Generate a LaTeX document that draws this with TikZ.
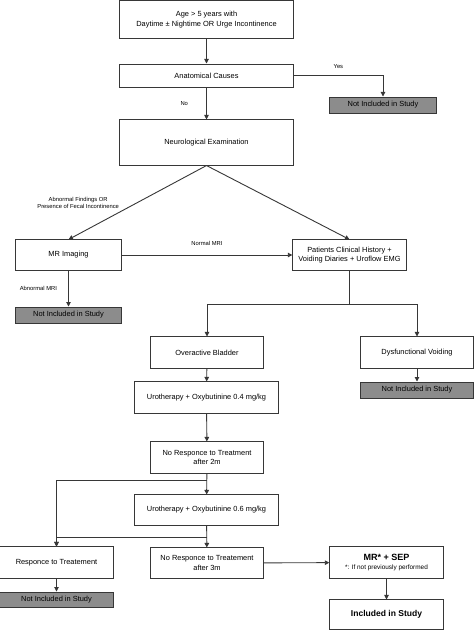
\documentclass[tikz,border=0pt]{standalone}
\usepackage{fontspec}
\setmainfont{Liberation Sans}
\usetikzlibrary{arrows.meta}
\definecolor{exclgray}{RGB}{140,140,140}
\definecolor{edgegray}{RGB}{55,55,55}
\tikzset{
  box/.style={draw=edgegray, line width=0.9pt, fill=white, align=center, inner sep=0pt, font=\fontsize{7.4}{9.6}\selectfont},
  kexcl/.style={box, fill=exclgray, minimum height=16pt},
  kstep/.style={box, minimum width=112pt, minimum height=31pt},
  kdrug/.style={box, minimum width=143pt, minimum height=31pt},
  lbl/.style={font=\fontsize{5.8}{7}\selectfont, inner sep=1pt, align=center},
  flow/.style={-{Triangle[length=4.5pt, width=4.5pt]}, line width=0.9pt, draw=edgegray},
}

\begin{document}
\begin{tikzpicture}[x=0.035cm, y=-0.035cm]
    \useasboundingbox (0,0) rectangle (474,631);
    \node[box, minimum width=173pt, minimum height=37pt] (age) at (206.5,19.5) {Age > 5 years with\\Daytime ± Nightime OR Urge Incontinence};
    \node[box, minimum width=173pt, minimum height=23pt] (anat) at (206.5,75.5) {Anatomical Causes};
    \node[kexcl, minimum width=106pt] (exclA) at (383,105) {Not Included in Study};
    \node[box, minimum width=173pt, minimum height=45pt] (neuro) at (206.5,142.5) {Neurological Examination};
    \node[box, minimum width=105pt, minimum height=30pt] (mri) at (68.5,255) {MR Imaging};
    \node[box, minimum width=113pt, minimum height=30pt] (hist) at (349.5,255) {Patients Clinical History +\\Voiding Diaries + Uroflow EMG};
    \node[kexcl, minimum width=105pt] (exclB) at (68.5,315) {Not Included in Study};
    \node[kstep] (oab) at (207,352.5) {Overactive Bladder};
    \node[kstep] (dysv) at (417,352.5) {Dysfunctional Voiding};
    \node[kexcl, minimum width=112pt] (exclC) at (417,390) {Not Included in Study};
    \node[kdrug] (uroA) at (206.5,397.5) {Urotherapy + Oxybutinine 0.4 mg/kg};
    \node[kstep] (noresA) at (207,457.5) {No Responce to Treatment\\after 2m};
    \node[kdrug, minimum height=30pt] (uroB) at (206.5,510) {Urotherapy + Oxybutinine 0.6 mg/kg};
    \node[kstep, minimum width=113pt] (resp) at (56.5,562.5) {Responce to Treatement};
    \node[kexcl, minimum width=113pt, minimum height=15pt] (exclD) at (56.5,599.5) {Not Included in Study};
    \node[kstep, minimum height=30pt] (noresB) at (207,563) {No Responce to Treatement\\after 3m};
    \node[kstep, minimum width=113pt] (mrsep) at (386.5,562.5) {{\bfseries\fontsize{9}{12}\selectfont MR* + SEP}\\{\fontsize{6.4}{8}\selectfont *: If not previously performed}};
    \node[kstep, minimum width=113pt, minimum height=29pt, font=\bfseries\fontsize{8.5}{10}\selectfont] (incl) at (386.5,614.5) {Included in Study};
    \coordinate (splitA) at (349.5,304);
    \coordinate (splitB) at (207,480);
    \coordinate (splitC) at (207,537);
    \draw[flow] (age) -- (anat);
    \draw[flow] (anat.east) -| (exclA.north) node[lbl, pos=0.25, above=5pt]{Yes};
    \draw[flow] (anat) -- (neuro) node[lbl, midway, left=17pt]{No};
    \draw[flow] (neuro.south) -- (mri.north) node[lbl, midway, left=17pt]{Abnormal Findings OR\\Presence of Fecal Incontinence};
    \draw[flow] (neuro.south) -- (hist.north);
    \draw[flow] (mri) -- (hist) node[lbl, midway, above=8pt]{Normal MRI};
    \draw[flow] (mri) -- (exclB) node[lbl, midway, left=10pt]{Abnormal MRI};
    \draw[flow] (hist.south) -- (splitA) -| (oab.north);
    \draw[flow] (splitA) -| (dysv.north);
    \draw[flow] (dysv) -- (exclC);
    \draw[flow] (oab) -- (uroA);
    \draw[flow] (uroA) -- (noresA);
    \draw[flow] (noresA) -- (uroB);
    \draw[flow] (splitB) -| (resp.north);
    \draw[flow] (uroB) -- (noresB);
    \draw[flow] (splitC) -| (resp.north);
    \draw[flow] (resp) -- (exclD);
    \draw[flow] (noresB) -- (mrsep);
    \draw[flow] (mrsep) -- (incl);
  \end{tikzpicture}
\end{document}
